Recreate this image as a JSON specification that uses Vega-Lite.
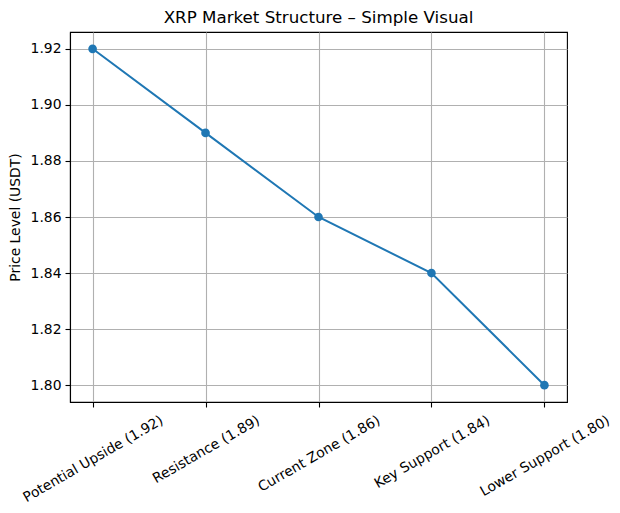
{
  "$schema": "https://vega.github.io/schema/vega-lite/v6.json",
  "autosize": {"type": "none"},
  "width": 497,
  "height": 370,
  "padding": {"left": 70, "top": 32, "right": 53, "bottom": 111},
  "background": "white",
  "title": {
    "text": "XRP Market Structure – Simple Visual",
    "fontSize": 16.7,
    "fontWeight": "normal",
    "color": "black",
    "anchor": "middle",
    "offset": 5
  },
  "config": {
    "font": "DejaVu Sans",
    "view": {"stroke": "black", "strokeWidth": 1.1},
    "axis": {
      "domainColor": "black",
      "domainWidth": 1.1,
      "tickColor": "black",
      "tickWidth": 1.1,
      "tickSize": 5,
      "labelColor": "black",
      "labelFontSize": 13.9,
      "titleColor": "black",
      "titleFontSize": 13.9,
      "titleFontWeight": "normal",
      "grid": true,
      "gridColor": "#b0b0b0",
      "gridWidth": 1.1
    }
  },
  "data": {
    "values": [
      {"level": "Potential Upside (1.92)", "price": 1.92},
      {"level": "Resistance (1.89)", "price": 1.89},
      {"level": "Current Zone (1.86)", "price": 1.86},
      {"level": "Key Support (1.84)", "price": 1.84},
      {"level": "Lower Support (1.80)", "price": 1.80}
    ]
  },
  "mark": {
    "type": "line",
    "color": "#1f77b4",
    "strokeWidth": 2,
    "point": {"filled": true, "size": 75, "color": "#1f77b4", "opacity": 1}
  },
  "encoding": {
    "x": {
      "field": "level",
      "type": "nominal",
      "sort": ["Potential Upside (1.92)", "Resistance (1.89)", "Current Zone (1.86)", "Key Support (1.84)", "Lower Support (1.80)"],
      "scale": {"type": "point", "padding": 0.2},
      "axis": {
        "title": null,
        "labelAngle": -30,
        "labelAlign": "right",
        "labelBaseline": "top",
        "labelPadding": 6,
        "labelOffset": {"expr": "datum.value == 'Potential Upside (1.92)' ? 65.6 : datum.value == 'Resistance (1.89)' ? 49.2 : datum.value == 'Current Zone (1.86)' ? 56.6 : datum.value == 'Key Support (1.84)' ? 53.4 : 60.4"}
      }
    },
    "y": {
      "field": "price",
      "type": "quantitative",
      "scale": {"domain": [1.794, 1.926], "zero": false, "nice": false},
      "axis": {
        "title": "Price Level (USDT)",
        "values": [1.80, 1.82, 1.84, 1.86, 1.88, 1.90, 1.92],
        "format": ".2f",
        "labelPadding": 4,
        "titlePadding": 8
      }
    }
  }
}
